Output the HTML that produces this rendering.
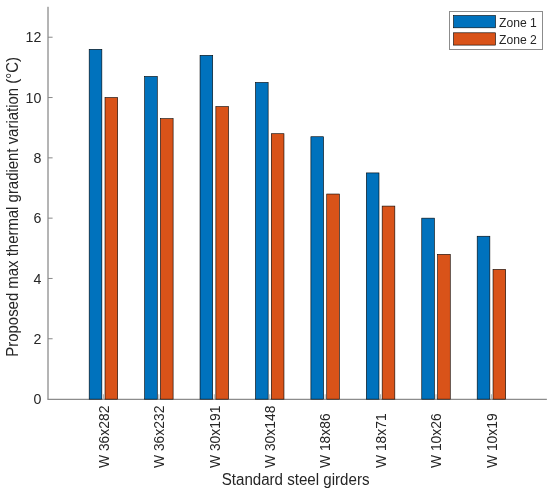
<!DOCTYPE html>
<html><head><meta charset="utf-8"><style>html,body{margin:0;padding:0;background:#fff;width:550px;height:491px;overflow:hidden}svg{display:block}</style></head>
<body>
<svg width="550" height="491" viewBox="0 0 550 491">
<rect width="550" height="491" fill="#fff"/>
<line x1="48.0" y1="6.8" x2="48.0" y2="399.45" stroke="#6a6a6a" stroke-width="1"/>
<line x1="47.5" y1="399.45" x2="546.87" y2="399.45" stroke="#8c8c8c" stroke-width="1.3"/>
<g stroke="#8a8a8a" stroke-width="1">
<line x1="48.0" y1="338.76" x2="52.6" y2="338.76"/>
<line x1="48.0" y1="278.46" x2="52.6" y2="278.46"/>
<line x1="48.0" y1="218.15" x2="52.6" y2="218.15"/>
<line x1="48.0" y1="157.85" x2="52.6" y2="157.85"/>
<line x1="48.0" y1="97.54" x2="52.6" y2="97.54"/>
<line x1="48.0" y1="37.23" x2="52.6" y2="37.23"/>
</g><g stroke="#b0b0b0" stroke-width="1">
<line x1="103.43" y1="399.45" x2="103.43" y2="394.25"/>
<line x1="158.86" y1="399.45" x2="158.86" y2="394.25"/>
<line x1="214.29" y1="399.45" x2="214.29" y2="394.25"/>
<line x1="269.72" y1="399.45" x2="269.72" y2="394.25"/>
<line x1="325.15" y1="399.45" x2="325.15" y2="394.25"/>
<line x1="380.58" y1="399.45" x2="380.58" y2="394.25"/>
<line x1="436.01" y1="399.45" x2="436.01" y2="394.25"/>
<line x1="491.44" y1="399.45" x2="491.44" y2="394.25"/>
</g>
<rect x="89.18" y="49.30" width="12.67" height="349.85" fill="#0072BD" stroke="#000" stroke-width="0.6"/>
<rect x="105.01" y="97.54" width="12.67" height="301.61" fill="#D95319" stroke="#000" stroke-width="0.6"/>
<rect x="144.61" y="76.43" width="12.67" height="322.72" fill="#0072BD" stroke="#000" stroke-width="0.6"/>
<rect x="160.44" y="118.65" width="12.67" height="280.50" fill="#D95319" stroke="#000" stroke-width="0.6"/>
<rect x="200.04" y="55.33" width="12.67" height="343.82" fill="#0072BD" stroke="#000" stroke-width="0.6"/>
<rect x="215.87" y="106.59" width="12.67" height="292.56" fill="#D95319" stroke="#000" stroke-width="0.6"/>
<rect x="255.47" y="82.46" width="12.67" height="316.69" fill="#0072BD" stroke="#000" stroke-width="0.6"/>
<rect x="271.30" y="133.72" width="12.67" height="265.43" fill="#D95319" stroke="#000" stroke-width="0.6"/>
<rect x="310.90" y="136.74" width="12.67" height="262.41" fill="#0072BD" stroke="#000" stroke-width="0.6"/>
<rect x="326.73" y="194.03" width="12.67" height="205.12" fill="#D95319" stroke="#000" stroke-width="0.6"/>
<rect x="366.33" y="172.92" width="12.67" height="226.23" fill="#0072BD" stroke="#000" stroke-width="0.6"/>
<rect x="382.16" y="206.09" width="12.67" height="193.06" fill="#D95319" stroke="#000" stroke-width="0.6"/>
<rect x="421.76" y="218.15" width="12.67" height="181.00" fill="#0072BD" stroke="#000" stroke-width="0.6"/>
<rect x="437.59" y="254.34" width="12.67" height="144.81" fill="#D95319" stroke="#000" stroke-width="0.6"/>
<rect x="477.19" y="236.24" width="12.67" height="162.91" fill="#0072BD" stroke="#000" stroke-width="0.6"/>
<rect x="493.02" y="269.41" width="12.67" height="129.74" fill="#D95319" stroke="#000" stroke-width="0.6"/>
<g style="font-family:'Liberation Sans',Arial,sans-serif" fill="#262626">
<text x="41.3" y="404.28" font-size="14.2" text-anchor="end">0</text>
<text x="41.3" y="343.98" font-size="14.2" text-anchor="end">2</text>
<text x="41.3" y="283.67" font-size="14.2" text-anchor="end">4</text>
<text x="41.3" y="223.36" font-size="14.2" text-anchor="end">6</text>
<text x="41.3" y="163.06" font-size="14.2" text-anchor="end">8</text>
<text x="41.3" y="102.75" font-size="14.2" text-anchor="end">10</text>
<text x="41.3" y="42.45" font-size="14.2" text-anchor="end">12</text>
<text font-size="13.9" transform="translate(108.73 468.1) rotate(-90) scale(1 1.085)">W 36x282</text>
<text font-size="13.9" transform="translate(164.16 468.1) rotate(-90) scale(1 1.085)">W 36x232</text>
<text font-size="13.9" transform="translate(219.59 468.1) rotate(-90) scale(1 1.085)">W 30x191</text>
<text font-size="13.9" transform="translate(275.02 468.1) rotate(-90) scale(1 1.085)">W 30x148</text>
<text font-size="13.9" transform="translate(330.45 468.1) rotate(-90) scale(1 1.085)">W 18x86</text>
<text font-size="13.9" transform="translate(385.88 468.1) rotate(-90) scale(1 1.085)">W 18x71</text>
<text font-size="13.9" transform="translate(441.31 468.1) rotate(-90) scale(1 1.085)">W 10x26</text>
<text font-size="13.9" transform="translate(496.74 468.1) rotate(-90) scale(1 1.085)">W 10x19</text>
<text font-size="15.12" text-anchor="middle" transform="translate(295.6 484.7) scale(1 1.03)">Standard steel girders</text>
<text font-size="14.93" text-anchor="middle" transform="translate(17.8 206.9) rotate(-90) scale(1 1.07)">Proposed max thermal gradient variation (°C)</text>
</g>
<rect x="449.5" y="11.5" width="93" height="38" fill="#fff" stroke="#8c8c8c" stroke-width="1"/>
<rect x="453.5" y="15.5" width="42" height="12.3" fill="#0072BD" stroke="#000" stroke-width="0.6"/>
<rect x="453.5" y="32.8" width="42" height="12.3" fill="#D95319" stroke="#000" stroke-width="0.6"/>
<g style="font-family:'Liberation Sans',Arial,sans-serif" fill="#262626" font-size="12.15">
<text x="499" y="26.8">Zone 1</text>
<text x="499" y="43.6">Zone 2</text>
</g>
</svg>
</body></html>
